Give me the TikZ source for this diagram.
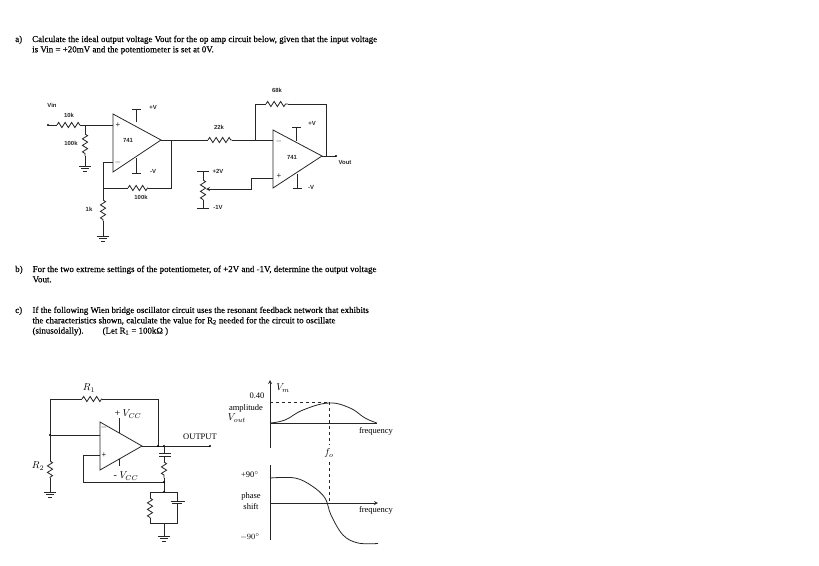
\documentclass[tikz,border=0pt]{standalone}
\usepackage{fontspec}
\setmainfont{Liberation Serif}
\newfontfamily\labelfont{Liberation Sans}
\newfontfamily\parafont[FakeBold=0.25]{Liberation Serif}
\usetikzlibrary{decorations.pathmorphing}
\tikzset{
  >=stealth,
  wire/.style={line width=0.8pt, black!85},
  res/.style={wire, decorate, decoration={zigzag, segment length=6.5pt, amplitude=2.6pt}},
  para/.style={anchor=north west, align=left, inner sep=0pt, font=\parafont\fontsize{8.95}{10.3}\selectfont},
  lbl/.style={inner sep=0pt, font=\labelfont\bfseries\fontsize{5.9}{6}\selectfont, black!85},
  sgn/.style={inner sep=0pt, font=\labelfont\fontsize{8}{8}\selectfont, black!85},
  txt/.style={inner sep=0pt, font=\fontsize{8.5}{9}\selectfont},
  mth/.style={inner sep=0pt, font=\fontsize{10}{11}\selectfont},
  gnd/.pic={
    \draw[wire] (-6,0)--(6,0);
    \draw[wire] (-4,2.5)--(4,2.5);
    \draw[wire] (-2,5)--(2,5);
  },
}
\begin{document}
\begin{tikzpicture}[x=1pt,y=-1pt]
  \path[use as bounding box, fill=white] (0,0) rectangle (819,565);
  % question text
  \node[para] (qa) at (15,35.5) {a)\hspace{10pt}\parbox[t]{380pt}{Calculate the ideal output voltage Vout for the op amp circuit below, given that the input voltage\\is Vin = +20mV and the potentiometer is set at 0V.}};
  \node[para] (qb) at (15,265.5) {b)\hspace{10pt}\parbox[t]{380pt}{For the two extreme settings of the potentiometer, of +2V and -1V, determine the output voltage\\Vout.}};
  \node[para] (qc) at (15,306.5) {c)\hspace{10.4pt}\parbox[t]{380pt}{\fontsize{8.88}{10.3}\selectfont If the following Wien bridge oscillator circuit uses the resonant feedback network that exhibits\\the characteristics shown, calculate the value for R\textsubscript{2} needed for the circuit to oscillate\\(sinusoidally).\hspace{19pt}(Let R\textsubscript{1} = 100kΩ )}};
  % first op amp
  \coordinate (ampAa) at (113,114);
  \coordinate (ampAb) at (113,172);
  \coordinate (ampAo) at (161,140);
  \draw[wire] (ampAa)--(ampAo)--(ampAb)--cycle;
  \coordinate (vin) at (48,125);
  \coordinate (tenA) at (57,125);
  \coordinate (tenB) at (80,125);
  \coordinate (juncA) at (85,125);
  \coordinate (plusA) at (113,125);
  \coordinate (hunA) at (85,134);
  \coordinate (hunB) at (85,156);
  \coordinate (gndA) at (85,166);
  \fill (vin) circle (1.2);
  \draw[wire] (vin)--(tenA);
  \draw[res] (tenA)--(tenB);
  \draw[wire] (tenB)--(plusA);
  \draw[wire] (juncA)--(hunA);
  \draw[res] (hunA)--(hunB);
  \draw[wire] (hunB)--(gndA);
  \pic at (gndA) {gnd};
  \coordinate (minusA) at (113,162);
  \coordinate (fbA) at (103,162);
  \coordinate (fbB) at (103,188);
  \coordinate (hunC) at (128,188);
  \coordinate (hunD) at (148,188);
  \coordinate (fbC) at (171,188);
  \coordinate (fbD) at (171,140);
  \coordinate (oneA) at (103,200);
  \coordinate (oneB) at (103,221);
  \coordinate (gndB) at (103,236);
  \draw[wire] (minusA)--(fbA)--(fbB)--(hunC);
  \draw[res] (hunC)--(hunD);
  \draw[wire] (hunD)--(fbC)--(fbD);
  \draw[wire] (fbB)--(oneA);
  \draw[res] (oneA)--(oneB);
  \draw[wire] (oneB)--(gndB);
  \pic at (gndB) {gnd};
  \coordinate (supA) at (136,122);
  \coordinate (supB) at (136,109);
  \coordinate (supC) at (136,158);
  \coordinate (supD) at (136,173);
  \draw[wire] (supA)--(supB) (supC)--(supD);
  \draw[wire] (131.5,109)--(141,109) (131.5,173)--(141,173);
  % second op amp
  \coordinate (ampBa) at (273,130);
  \coordinate (ampBb) at (273,188);
  \coordinate (ampBo) at (322,156);
  \draw[wire] (ampBa)--(ampBo)--(ampBb)--cycle;
  \coordinate (twoA) at (208,140);
  \coordinate (twoB) at (232,140);
  \coordinate (juncB) at (255,140);
  \coordinate (minusB) at (273,140);
  \coordinate (topA) at (255,104);
  \coordinate (sixA) at (266,104);
  \coordinate (sixB) at (288,104);
  \coordinate (topB) at (326,104);
  \coordinate (outB) at (326,156);
  \coordinate (vout) at (336,156);
  \draw[wire] (ampAo)--(twoA);
  \draw[res] (twoA)--(twoB);
  \draw[wire] (twoB)--(minusB);
  \draw[wire] (juncB)--(topA)--(sixA);
  \draw[res] (sixA)--(sixB);
  \draw[wire] (sixB)--(topB)--(outB);
  \draw[wire] (ampBo)--(vout);
  \fill (vout) circle (1.2);
  \coordinate (plusB) at (273,178);
  \coordinate (elbowA) at (251,178);
  \coordinate (elbowB) at (251,189);
  \coordinate (wiper) at (206,189);
  \draw[wire,->] (plusB)--(elbowA)--(elbowB)--(wiper);
  \coordinate (potT) at (203,171);
  \coordinate (potA) at (203,180);
  \coordinate (potB) at (203,200);
  \coordinate (potE) at (203,208);
  \draw[wire] (potT)--(potA) (potB)--(potE);
  \draw[res] (potA)--(potB);
  \draw[wire] (197,171)--(209,171) (197,208)--(209,208);
  \coordinate (supE) at (296,127);
  \coordinate (supF) at (296,141);
  \coordinate (supG) at (297,174);
  \coordinate (supH) at (297,188);
  \draw[wire] (supE)--(supF) (supG)--(supH);
  \draw[wire] (292,127)--(301,127) (292.5,188)--(301.5,188);
  % labels of the top circuit
  \node[lbl] (lvin) at (52,105) {Vin};
  \node[lbl] (lten) at (69,115) {10k};
  \node[lbl] (lhuna) at (71,143) {100k};
  \node[lbl] (lhunb) at (141,197) {100k};
  \node[lbl] (lone) at (89,209) {1k};
  \node[lbl] (lamp) at (128,140) {741};
  \node[lbl] (lpva) at (153,107) {+V};
  \node[lbl] (lmva) at (153,171) {-V};
  \node[sgn] (lpin) at (118,125) {+};
  \node[sgn] (lmin) at (118,162) {\(-\)};
  \node[lbl] (ltwo) at (219,127) {22k};
  \node[lbl] (lsix) at (277,90) {68k};
  \node[lbl] (lampb) at (292,157) {741};
  \node[lbl] (lpvb) at (312,123) {+V};
  \node[lbl] (lmvb) at (311,187) {-V};
  \node[sgn] (lpinb) at (279,176) {+};
  \node[sgn] (lminb) at (279,141) {\(-\)};
  \node[lbl] (lvout) at (345,162) {Vout};
  \node[lbl] (lptwo) at (218,171) {+2V};
  \node[lbl] (lmone) at (218,207) {-1V};
  % wien bridge
  \coordinate (ampCa) at (100,422);
  \coordinate (ampCb) at (100,470);
  \coordinate (ampCo) at (142,446);
  \draw[wire] (ampCa)--(ampCo)--(ampCb)--cycle;
  \coordinate (juncC) at (50,435);
  \coordinate (minusC) at (100,435);
  \coordinate (rtop) at (50,399);
  \coordinate (roneA) at (82,399);
  \coordinate (roneB) at (102,399);
  \coordinate (rtopB) at (158,399);
  \coordinate (juncD) at (158,446);
  \coordinate (juncE) at (164,446);
  \coordinate (output) at (210,446);
  \draw[wire] (minusC)--(juncC)--(rtop)--(roneA);
  \draw[res] (roneA)--(roneB);
  \draw[wire] (roneB)--(rtopB)--(juncD);
  \draw[wire] (ampCo)--(output);
  \foreach \j in {juncC,juncD,juncE,output} \fill (\j) circle (1.2);
  \coordinate (rtwoA) at (50,461);
  \coordinate (rtwoB) at (50,478);
  \coordinate (gndC) at (50,492);
  \draw[wire] (juncC)--(rtwoA);
  \draw[res] (rtwoA)--(rtwoB);
  \draw[wire] (rtwoB)--(gndC);
  \pic at (gndC) {gnd};
  \coordinate (capA) at (164,453);
  \coordinate (capB) at (164,456);
  \coordinate (serA) at (164,462);
  \coordinate (serB) at (164,478);
  \coordinate (juncF) at (164,482);
  \coordinate (juncG) at (164,492);
  \coordinate (plusC) at (100,455);
  \coordinate (fbE) at (83,455);
  \coordinate (fbF) at (83,482);
  \draw[wire] (juncE)--(capA) (capB)--(serA);
  \draw[wire] (159,453)--(171,453) (159,456)--(171,456);
  \draw[res] (serA)--(serB);
  \draw[wire] (serB)--(juncG);
  \draw[wire] (plusC)--(fbE)--(fbF)--(juncF);
  \foreach \j in {juncF,juncG} \fill (\j) circle (1.2);
  \coordinate (boxA) at (150,492);
  \coordinate (boxB) at (177,492);
  \coordinate (boxC) at (177,523);
  \coordinate (boxD) at (150,523);
  \coordinate (boxE) at (164,523);
  \coordinate (parA) at (150,498);
  \coordinate (parB) at (150,518);
  \coordinate (capC) at (177,501);
  \coordinate (capD) at (177,503);
  \coordinate (gndD) at (164,536);
  \draw[wire] (parA)--(boxA)--(boxB)--(capC);
  \draw[wire] (capD)--(boxC)--(boxD)--(parB);
  \draw[res] (parA)--(parB);
  \draw[wire] (171,501)--(185,501) (172,503.5)--(182,503.5);
  \draw[wire] (boxE)--(gndD);
  \pic at (gndD) {gnd};
  \coordinate (supI) at (119,418);
  \coordinate (supJ) at (119,433);
  \coordinate (supK) at (119,459);
  \coordinate (supL) at (119,466);
  \draw[wire] (supI)--(supJ) (supK)--(supL);
  \node[mth] (lrone) at (89,388) {\(R_1\)};
  \node[mth] (lrtwo) at (38,466) {\(R_2\)};
  \node[mth] (lpcc) at (128,414) {+ \(V_{CC}\)};
  \node[mth] (lmcc) at (126,476) {- \(V_{CC}\)};
  \node[txt] (lout) at (200,437) {OUTPUT};
  \node[sgn] (lminc) at (104,427) {\(-\)};
  \node[sgn] (lpinc) at (104,455) {+};
  % amplitude and phase plots
  \coordinate (axA) at (270,448);
  \coordinate (axB) at (270,380);
  \coordinate (baseA) at (270,423);
  \coordinate (baseB) at (377,423);
  \draw[wire,->] (axA)--(axB);
  \draw[wire] (baseA)--(baseB);
  \draw[wire] plot [smooth, tension=0.7] coordinates {(270,423) (285,420) (303,410) (329,403) (350,408) (365,418) (377,423)};
  \coordinate (peakA) at (270,402);
  \coordinate (peakB) at (329,402);
  \coordinate (fgapA) at (329,445);
  \coordinate (fgapB) at (329,462);
  \coordinate (dropB) at (329,503);
  \draw[wire,dashed] (peakA)--(peakB);
  \draw[wire,dashed] (peakB)--(fgapA);
  \draw[wire,dashed] (fgapB)--(dropB);
  \coordinate (axC) at (270,465);
  \coordinate (axD) at (270,540);
  \coordinate (zeroA) at (270,503);
  \coordinate (zeroB) at (378,503);
  \draw[wire] (axC)--(axD);
  \draw[wire,->] (zeroA)--(zeroB);
  \draw[wire] plot [smooth, tension=0.6] coordinates {(270,478) (295,478) (312,486) (325,498) (331,515) (343,535) (358,543) (378,543.5)};
  \node[mth] (lvm) at (283,388) {\(V_m\)};
  \node[txt] (lzero) at (257,396) {0.40};
  \node[txt] (lamplitude) at (246,408) {amplitude};
  \node[mth] (lvo) at (237,418) {\(V_{out}\)};
  \node[txt] (lfa) at (376,431) {frequency};
  \node[mth] (lfo) at (329,453) {\(f_o\)};
  \node[txt] (lpn) at (250,475) {+90\(^{\circ}\)};
  \node[txt] (lphase) at (251,496) {phase};
  \node[txt] (lshift) at (251,507) {shift};
  \node[txt] (lmn) at (250,537) {\(-90^{\circ}\)};
  \node[txt] (lfb) at (376,510) {frequency};
\end{tikzpicture}
\end{document}
